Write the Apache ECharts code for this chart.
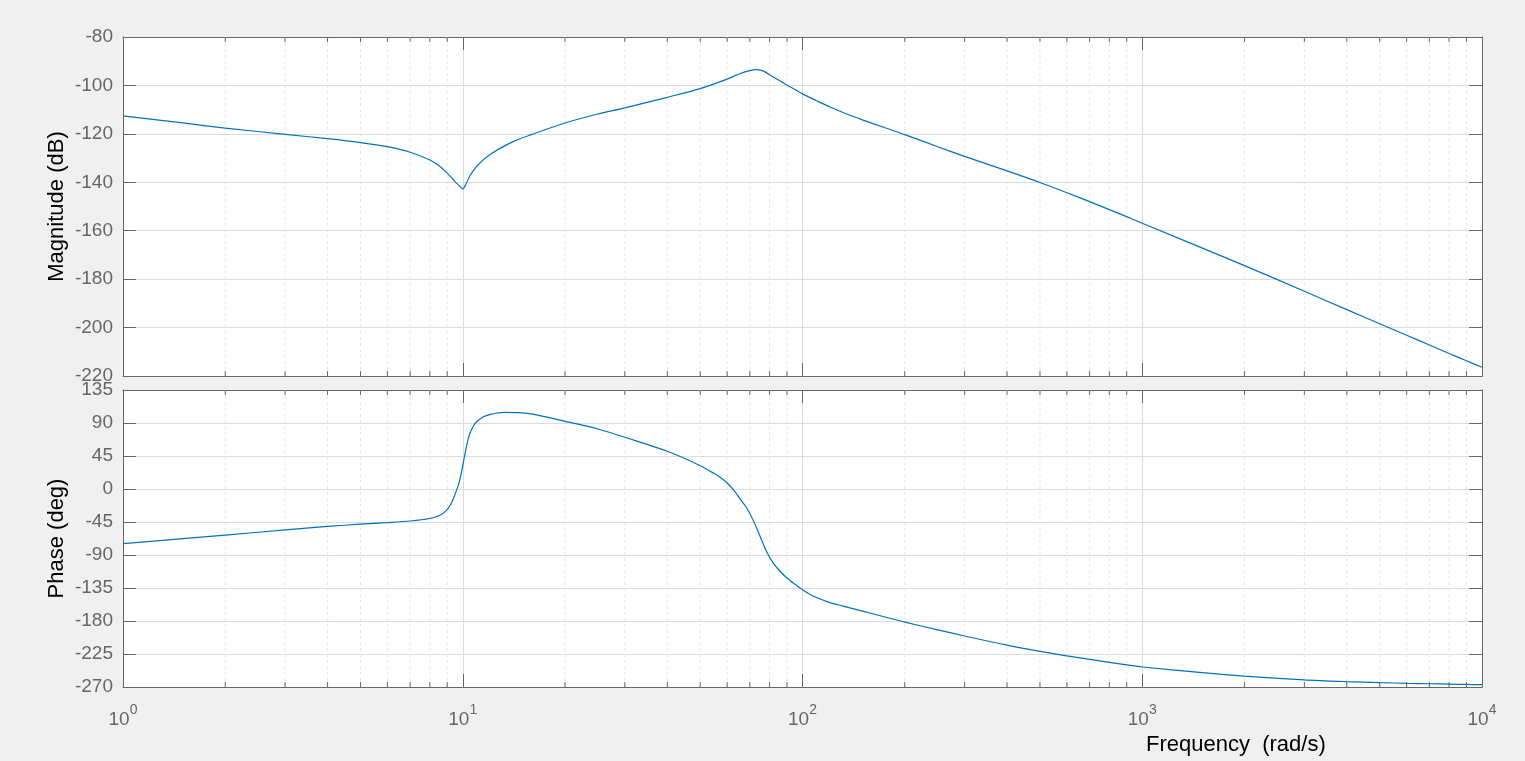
<!DOCTYPE html>
<html>
<head>
<meta charset="utf-8">
<script src="https://cdn.jsdelivr.net/npm/echarts@6/dist/echarts.min.js"></script>
<style>
html,body{margin:0;padding:0;background:#f0f0f0;}
#c{width:1525px;height:761px;}
</style>
</head>
<body>
<div id="c"></div>
<script>
// ---- data ----
const magFreq = [1, 1.5, 2, 3, 4, 5, 6, 7, 8, 8.5, 9, 9.5, 9.77, 10, 10.23, 10.5, 11, 12, 14, 16, 20, 25, 30, 40, 50, 60, 65, 70, 73, 74.5, 76, 78, 80, 85, 90, 100, 110, 120, 135, 150, 175, 200, 250, 300, 400, 500, 600, 700, 800, 900, 1000, 2000, 3000, 4000, 5000, 6000, 7000, 8000, 9000, 10000];
const magDb = [-112.6, -115.5, -117.6, -120.2, -122.0, -123.6, -125.3, -127.6, -130.8, -133.1, -136.2, -139.8, -141.4, -142.7, -140.6, -137.3, -133.3, -128.6, -123.3, -120.2, -115.5, -111.8, -109.3, -104.9, -101.3, -97.4, -95.3, -93.9, -93.5, -93.6, -93.9, -94.6, -95.6, -97.8, -99.8, -103.5, -106.3, -108.8, -111.8, -114.2, -117.5, -120.3, -125.3, -129.3, -135.3, -140.1, -144.3, -148.0, -151.3, -154.2, -156.9, -174.4, -185.0, -192.6, -198.4, -203.2, -207.2, -210.7, -213.7, -216.4];

const phaseFreq = [1, 1.5, 2, 3, 4, 5, 6, 7, 8, 8.5, 8.9, 9.2, 9.4, 9.7, 9.85, 10, 10.15, 10.3, 10.5, 10.75, 11, 11.5, 12, 13.2, 15.7, 20, 25, 30, 40, 50, 55, 57.5, 60, 63, 65.5, 68.5, 72, 75, 78.5, 82, 86, 90, 95, 100, 105, 110, 118, 130, 150, 175, 200, 250, 300, 400, 500, 600, 700, 800, 900, 1000, 1500, 2000, 3000, 4000, 5000, 6000, 7000, 8000, 9000, 10000];
const phaseDeg = [-74.6, -67.8, -62.8, -55.8, -51.0, -48.0, -45.8, -43.6, -40.2, -36.5, -30.5, -21.4, -12.3, 5, 17, 32, 48, 62, 76, 86, 92, 98.5, 101.5, 104.5, 102.8, 92.3, 81.8, 70.5, 51.4, 31.8, 21, 15.2, 8.2, -2.5, -13.5, -25.9, -45, -64.5, -86, -101, -112.5, -121.4, -130, -137.5, -143.5, -148, -153.5, -159, -166.5, -174.5, -181.5, -192, -200.5, -213, -221.5, -227.6, -232.4, -236.4, -239.8, -242.7, -250.5, -255.2, -260.3, -262.7, -264.1, -265.0, -265.6, -266.1, -266.5, -266.8];

const freqRange = [1, 10000];
const magRange = [-220, -80];
const magStep = 20;
const phaseRange = [-270, 135];
const phaseStep = 45;
const minorFreqs = [2,3,4,5,6,7,8,9, 20,30,40,50,60,70,80,90, 200,300,400,500,600,700,800,900, 2000,3000,4000,5000,6000,7000,8000,9000];

const magLabel = 'Magnitude (dB)';
const phaseLabel = 'Phase (deg)';
const freqLabel = 'Frequency  (rad/s)';

// ---- styling ----
const AX = '#666666';
const GRIDC = '#dcdcdc';
const MINORC = '#e6e6e6';
const LINEC = '#0072BD';
const FONT = 'Liberation Sans, Arial, sans-serif';

function xAxes(g, withLabels) {
  return [
    {
      type: 'log', logBase: 10, min: freqRange[0], max: freqRange[1], gridIndex: g, position: 'bottom',
      axisLine: {show: true, onZero: false, lineStyle: {color: AX, width: 1}},
      axisTick: {show: true, inside: true, length: 13, lineStyle: {color: AX}},
      splitLine: {show: true, lineStyle: {color: GRIDC, width: 1}},
      axisLabel: withLabels ? {
        show: true, margin: 16, color: AX, fontFamily: FONT,
        formatter: function (v) {
          const e = Math.round(Math.log10(v));
          return '{b|10}{s|' + e + '}';
        },
        rich: {
          b: {fontSize: 19, fontFamily: FONT, color: AX, lineHeight: 26, verticalAlign: 'bottom'},
          s: {fontSize: 14, fontFamily: FONT, color: AX, lineHeight: 26, verticalAlign: 'top'}
        }
      } : {show: false}
    },
    {
      type: 'log', logBase: 10, min: freqRange[0], max: freqRange[1], gridIndex: g, position: 'top',
      axisLine: {show: true, onZero: false, lineStyle: {color: AX, width: 1}},
      axisTick: {show: true, inside: true, length: 13, lineStyle: {color: AX}},
      splitLine: {show: false},
      axisLabel: {show: false}
    }
  ];
}

function yAxes(g, range, step, name) {
  return [
    {
      type: 'value', gridIndex: g, position: 'left', min: range[0], max: range[1], interval: step,
      name: name, nameLocation: 'middle', nameGap: 55, nameRotate: 90, nameMoveOverlap: false,
      nameTextStyle: {fontSize: 22, fontFamily: FONT, color: '#000'},
      axisLine: {show: true, lineStyle: {color: AX, width: 1}},
      axisTick: {show: true, inside: true, length: 13, lineStyle: {color: AX}},
      splitLine: {show: true, lineStyle: {color: GRIDC, width: 1}},
      axisLabel: {show: true, margin: 10, fontSize: 19, fontFamily: FONT, color: AX}
    },
    {
      type: 'value', gridIndex: g, position: 'right', min: range[0], max: range[1], interval: step,
      axisLine: {show: true, lineStyle: {color: AX, width: 1}},
      axisTick: {show: true, inside: true, length: 13, lineStyle: {color: AX}},
      splitLine: {show: false},
      axisLabel: {show: false}
    }
  ];
}

function minorSeries(xi, yi, range) {
  return {
    type: 'custom', xAxisIndex: xi, yAxisIndex: yi, silent: true, clip: false, z: 1,
    data: minorFreqs.map(function (f) { return [f, range[0]]; }),
    encode: {x: 0, y: 1},
    renderItem: function (params, api) {
      const w = api.value(0);
      const bot = api.coord([w, range[0]]);
      const top = api.coord([w, range[1]]);
      return {
        type: 'group',
        children: [
          {type: 'line', shape: {x1: bot[0], y1: bot[1], x2: top[0], y2: top[1]},
           style: {stroke: MINORC, lineWidth: 1, lineDash: [3, 3]}},
          {type: 'line', shape: {x1: bot[0], y1: bot[1], x2: bot[0], y2: bot[1] - 5},
           style: {stroke: AX, lineWidth: 1}},
          {type: 'line', shape: {x1: top[0], y1: top[1], x2: top[0], y2: top[1] + 5},
           style: {stroke: AX, lineWidth: 1}}
        ]
      };
    }
  };
}

const chart = echarts.init(document.getElementById('c'), null, {renderer: 'canvas'});
chart.setOption({
  backgroundColor: '#f0f0f0',
  animation: false,
  textStyle: {fontFamily: FONT},
  grid: [
    {left: 123, right: 43, top: 37, height: 339, show: true, backgroundColor: '#ffffff', borderWidth: 0},
    {left: 123, right: 43, top: 390, height: 297, show: true, backgroundColor: '#ffffff', borderWidth: 0}
  ],
  xAxis: xAxes(0, false).concat(xAxes(1, true)),
  yAxis: yAxes(0, magRange, magStep, magLabel).concat(yAxes(1, phaseRange, phaseStep, phaseLabel)),
  graphic: [{
    type: 'text', left: 1146, top: 734,
    style: {text: freqLabel, fontSize: 22, fontFamily: FONT, fill: '#000'}
  }],
  series: [
    minorSeries(0, 0, magRange),
    minorSeries(2, 2, phaseRange),
    {
      type: 'line', xAxisIndex: 0, yAxisIndex: 0, z: 5,
      data: magFreq.map(function (f, i) { return [f, magDb[i]]; }),
      showSymbol: false, smooth: 0.3,
      lineStyle: {color: LINEC, width: 1.2}
    },
    {
      type: 'line', xAxisIndex: 2, yAxisIndex: 2, z: 5,
      data: phaseFreq.map(function (f, i) { return [f, phaseDeg[i]]; }),
      showSymbol: false, smooth: 0.3,
      lineStyle: {color: LINEC, width: 1.2}
    }
  ]
});
</script>
</body>
</html>
